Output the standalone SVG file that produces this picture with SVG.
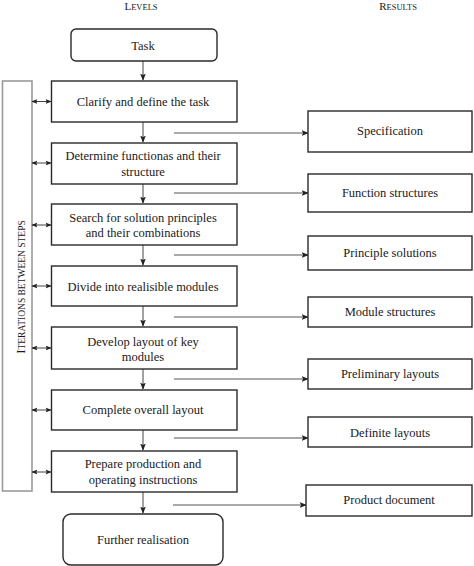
<svg xmlns="http://www.w3.org/2000/svg" width="474" height="566" viewBox="0 0 474 566" font-family="'Liberation Serif', 'Times New Roman', serif">
<style>
text{font-family:"Liberation Serif","Times New Roman",serif;fill:#1a1a1a;font-size:12.5px;text-anchor:middle}
.hd{font-size:8.5px}
.big{font-size:11px}
.box{fill:#fff;stroke:#2a2a2a;stroke-width:1.4}
.res{fill:#fff;stroke:#2a2a2a;stroke-width:1.4}
.it{fill:#fff;stroke:#9a9a9a;stroke-width:1.6}
.v{stroke:#444;stroke-width:1;fill:none}
.h{stroke:#555;stroke-width:1.2;fill:none}
</style>
<defs>
<marker id="ah" viewBox="0 0 10 10" refX="9" refY="5" markerWidth="7" markerHeight="7" orient="auto" markerUnits="userSpaceOnUse">
<path d="M0,1 L10,5 L0,9 L2,5 Z" fill="#222"/>
</marker>
<marker id="as" viewBox="0 0 10 10" refX="9" refY="5" markerWidth="6" markerHeight="6" orient="auto-start-reverse" markerUnits="userSpaceOnUse">
<path d="M0,1 L10,5 L0,9 L2,5 Z" fill="#222"/>
</marker>
</defs>
<rect width="474" height="566" fill="#fff"/>
<g id="headers">
<text x="141" y="10"><tspan class="big">L</tspan><tspan class="hd">EVELS</tspan></text>
<text x="398" y="10"><tspan class="big">R</tspan><tspan class="hd">ESULTS</tspan></text>
</g>
<g id="iterations">
<rect class="it" x="2.5" y="81" width="29.5" height="410"/>
<text transform="translate(25,287) rotate(-90)"><tspan style="font-size:12.5px">I</tspan><tspan style="font-size:9.5px">TERATIONS BETWEEN STEPS</tspan></text>
</g>
<g id="connectors">
<line class="v" x1="143" y1="61" x2="143" y2="80" marker-end="url(#ah)"/>
<line class="v" x1="143" y1="122" x2="143" y2="142" marker-end="url(#ah)"/>
<line class="v" x1="143" y1="184" x2="143" y2="203" marker-end="url(#ah)"/>
<line class="v" x1="143" y1="245" x2="143" y2="265" marker-end="url(#ah)"/>
<line class="v" x1="143" y1="306" x2="143" y2="326" marker-end="url(#ah)"/>
<line class="v" x1="143" y1="369" x2="143" y2="389" marker-end="url(#ah)"/>
<line class="v" x1="143" y1="430" x2="143" y2="450" marker-end="url(#ah)"/>
<line class="v" x1="143" y1="492" x2="143" y2="513" marker-end="url(#ah)"/>
<line class="h" x1="174" y1="133" x2="308" y2="133" marker-end="url(#ah)"/>
<line class="h" x1="174" y1="193" x2="308" y2="193" marker-end="url(#ah)"/>
<line class="h" x1="174" y1="255" x2="308" y2="255" marker-end="url(#ah)"/>
<line class="h" x1="174" y1="317" x2="308" y2="317" marker-end="url(#ah)"/>
<line class="h" x1="174" y1="379" x2="308" y2="379" marker-end="url(#ah)"/>
<line class="h" x1="174" y1="438" x2="308" y2="438" marker-end="url(#ah)"/>
<line class="h" x1="173" y1="505" x2="306" y2="505" marker-end="url(#ah)"/>
<line class="v" x1="32" y1="101.5" x2="51" y2="101.5" marker-start="url(#as)" marker-end="url(#as)"/>
<line class="v" x1="32" y1="163" x2="51" y2="163" marker-start="url(#as)" marker-end="url(#as)"/>
<line class="v" x1="32" y1="225" x2="51" y2="225" marker-start="url(#as)" marker-end="url(#as)"/>
<line class="v" x1="32" y1="286" x2="51" y2="286" marker-start="url(#as)" marker-end="url(#as)"/>
<line class="v" x1="32" y1="348" x2="51" y2="348" marker-start="url(#as)" marker-end="url(#as)"/>
<line class="v" x1="32" y1="410" x2="51" y2="410" marker-start="url(#as)" marker-end="url(#as)"/>
<line class="v" x1="32" y1="472" x2="51" y2="472" marker-start="url(#as)" marker-end="url(#as)"/>
</g>
<g id="task"><rect class="box" x="71" y="29" width="146" height="32" rx="5"/><text x="143" y="50">Task</text></g>
<g id="clarify"><rect class="box" x="51.5" y="81" width="185.5" height="41"/><text x="143" y="106">Clarify and define the task</text></g>
<g id="determine"><rect class="box" x="51.5" y="143" width="185.5" height="41"/><text x="143" y="160">Determine  functionas and their</text><text x="143" y="176">structure</text></g>
<g id="search"><rect class="box" x="51.5" y="204" width="185.5" height="41"/><text x="143" y="222">Search for solution principles</text><text x="143" y="237">and their  combinations</text></g>
<g id="divide"><rect class="box" x="51.5" y="266" width="185.5" height="40"/><text x="143" y="291">Divide into realisible  modules</text></g>
<g id="develop"><rect class="box" x="51.5" y="327" width="185.5" height="42"/><text x="143" y="346">Develop  layout of key</text><text x="143" y="361">modules</text></g>
<g id="complete"><rect class="box" x="51.5" y="390" width="185.5" height="40"/><text x="143" y="414">Complete  overall  layout</text></g>
<g id="prepare"><rect class="box" x="51.5" y="451" width="185.5" height="41"/><text x="143" y="468">Prepare production and</text><text x="143" y="484">operating  instructions</text></g>
<g id="further"><rect class="box" x="63" y="514" width="160" height="51" rx="8"/><text x="143" y="544">Further realisation</text></g>
<g id="specification"><rect class="res" x="308" y="111" width="164" height="41"/><text x="390" y="135">Specification</text></g>
<g id="function-structures"><rect class="res" x="308" y="174" width="164" height="38"/><text x="390" y="197">Function  structures</text></g>
<g id="principle-solutions"><rect class="res" x="308" y="236" width="164" height="34"/><text x="390" y="257">Principle  solutions</text></g>
<g id="module-structures"><rect class="res" x="308" y="297" width="164" height="30"/><text x="390" y="316">Module  structures</text></g>
<g id="preliminary-layouts"><rect class="res" x="308" y="359" width="164" height="30"/><text x="390" y="378">Preliminary  layouts</text></g>
<g id="definite-layouts"><rect class="res" x="308" y="417" width="164" height="30"/><text x="390" y="437">Definite  layouts</text></g>
<g id="product-document"><rect class="res" x="306" y="485" width="166" height="31"/><text x="389" y="504">Product document</text></g>
</svg>
